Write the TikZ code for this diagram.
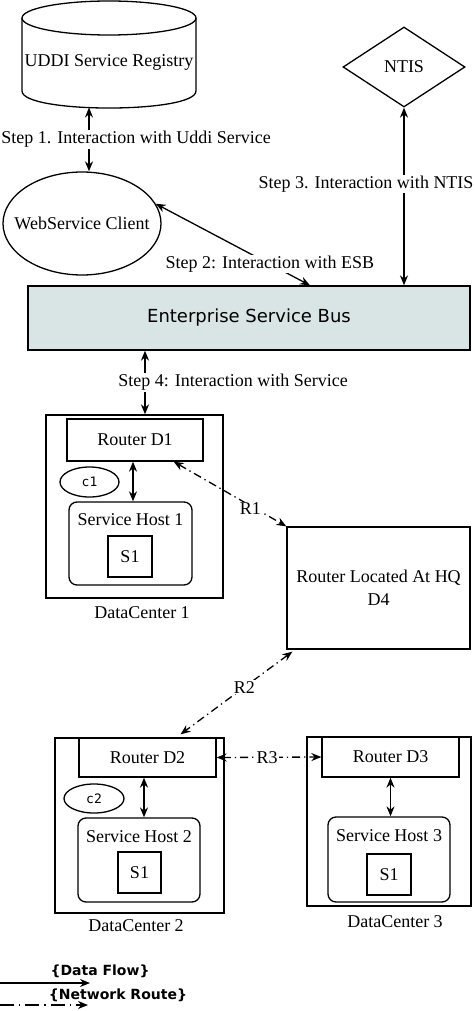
\documentclass[tikz,border=0pt]{standalone}
\usepackage{fontspec}
\setmainfont{Liberation Serif}
\setsansfont{DejaVu Sans}
\setmonofont{DejaVu Sans Mono}
\usepackage{tikz}
\usetikzlibrary{shapes.geometric, arrows, arrows.meta, positioning, calc}
\usepackage{xcolor}
\definecolor{busgray}{RGB}{217, 228, 228}
\tikzstyle{flow} = [line width=1.3pt,{Stealth[length=10pt,width=8pt]}-{Stealth[length=10pt,width=8pt]},black]
\tikzstyle{route} = [flow,dash pattern=on 8pt off 4pt on 1.3pt off 4pt]
\tikzstyle{steplabel} = [fill=white, inner sep=1pt, font=\fontsize{18}{20}\selectfont]
\tikzstyle{plainbox} = [draw, line width=1.3pt, inner sep=0pt, font=\fontsize{18}{20}\selectfont]
\tikzstyle{hostbox} = [plainbox, rounded corners=8pt]
\tikzstyle{cname} = [draw, ellipse, line width=1.3pt, inner sep=0pt, font=\ttfamily\fontsize{13}{13}\selectfont]

\begin{document}
\begin{tikzpicture}[x=1pt, y=-1pt]
\useasboundingbox (0,0) rectangle (474,1011);
% Top row: registry drum, client, NTIS
\draw[line width=1.3pt] (109,18) ellipse [x radius=87, y radius=17];
\draw[line width=1.3pt] (22,18) -- (22,91) .. controls (22,113.7) and (196,113.7) .. (196,91) -- (196,18);
\node[font=\fontsize{18}{20}\selectfont] (uddi) at (109,62) {UDDI Service Registry};
\coordinate (uddibot) at (89,107.5);
\node[plainbox, ellipse, minimum width=158pt, minimum height=103pt] (client) at (82,223.5) {\makebox[0pt]{WebService Client}};
\node[plainbox, diamond, aspect=1.5, minimum width=122pt, minimum height=80pt] (ntis) at (404,67) {NTIS};
% Bus
\node[plainbox, fill=busgray, minimum width=442pt, minimum height=64pt, font=\sffamily\fontsize{18}{20}\selectfont] (esb) at (249,318) {Enterprise Service Bus};

% DataCenter 1
\node[plainbox, minimum width=177pt, minimum height=183pt] (dc1) at (134.5,506.5) {};
\node[plainbox, minimum width=136pt, minimum height=42pt] (rd1) at (135,440) {Router D1};
\node[cname, minimum width=59pt, minimum height=30pt] (c1) at (89.5,482) {c1};
\node[hostbox, minimum width=123pt, minimum height=83pt] (host1) at (130.5,543.5) {};
\node[font=\fontsize{18}{20}\selectfont] (host1t) at (130.5,520) {Service Host 1};
\node[plainbox, minimum width=44pt, minimum height=41pt] (s1a) at (130,556.5) {S1};
\node[font=\fontsize{18}{20}\selectfont] (dc1t) at (142,613) {DataCenter 1};

% HQ router
\node[plainbox, minimum width=183pt, minimum height=122pt, align=center, font=\fontsize{18}{23}\selectfont] (hq) at (378.5,588) {Router Located At HQ\\D4};

% DataCenter 2
\node[plainbox, minimum width=169pt, minimum height=175pt] (dc2) at (139.5,825.5) {};
\node[plainbox, fill=white, minimum width=137pt, minimum height=39pt] (rd2) at (147.5,757.5) {Router D2};
\node[cname, minimum width=60pt, minimum height=29pt] (c2) at (94,798.5) {c2};
\node[hostbox, minimum width=122pt, minimum height=84pt] (host2) at (139,860) {};
\node[font=\fontsize{18}{20}\selectfont] (host2t) at (139,837) {Service Host 2};
\node[plainbox, minimum width=43pt, minimum height=41pt] (s1b) at (139.5,872.5) {S1};
\node[font=\fontsize{18}{20}\selectfont] (dc2t) at (136,926) {DataCenter 2};

% DataCenter 3
\node[plainbox, minimum width=164pt, minimum height=169pt] (dc3) at (389,821.5) {};
\node[plainbox, fill=white, minimum width=137pt, minimum height=40pt] (rd3) at (390.5,757) {Router D3};
\node[hostbox, minimum width=122pt, minimum height=85pt] (host3) at (389,859.5) {};
\node[font=\fontsize{18}{20}\selectfont] (host3t) at (389,836) {Service Host 3};
\node[plainbox, minimum width=44pt, minimum height=41pt] (s1c) at (389,874.5) {S1};
\node[font=\fontsize{18}{20}\selectfont] (dc3t) at (395,922) {DataCenter 3};

% Data flow arrows
\draw[flow] (uddibot) -- (uddibot |- client.north) node[steplabel, midway, xshift=47pt] {Step 1. Interaction with Uddi Service};
\draw[flow] (client.15) -- ($(esb.north)+(61,0)$) node[steplabel, pos=0.74] {Step 2: Interaction with ESB};
\draw[flow] (ntis.south) -- (ntis.south |- esb.north) node[steplabel, pos=0.43, xshift=-38pt] {Step 3. Interaction with NTIS};
\coordinate (st4) at ($(esb.south)+(-104,0)$);
\draw[flow] (st4) -- (st4 |- dc1.north) node[steplabel, midway, xshift=88pt] {Step 4: Interaction with Service};
\draw[flow] ($(rd1.south)+(-2,0)$) -- ($(rd1.south |- host1.north)+(-2,0)$);
\draw[flow] ($(rd2.south)+(-3.5,0)$) -- ($(rd2.south |- host2.north)+(-3.5,0)$);
\draw[flow] (rd3.south) -- (rd3.south |- host3.north);

% Network routes
\draw[route] ($(rd1.south east)+(-30,0)$) -- (hq.north west) node[steplabel, pos=0.68, yshift=-3pt] {R1};
\draw[route] ($(hq.south west)+(6,2)$) -- ($(rd2.north)+(33,-3)$) node[steplabel, pos=0.43] {R2};
\draw[route] (rd2.east) -- (rd3.west) node[steplabel, midway, xshift=-2pt] {R3};

% Legend
\coordinate (lgflow) at (0,983);
\coordinate (lgroute) at (0,1005);
\draw[line width=1.3pt,-{Stealth[length=10pt,width=8pt]}] (lgflow) -- ++(90,0);
\draw[line width=1.3pt,-{Stealth[length=10pt,width=8pt]},dash pattern=on 14pt off 5pt on 1.3pt off 5pt] (lgroute) -- ++(88,0);
\node[font=\sffamily\bfseries\fontsize{14}{16}\selectfont] (lgflowt) at (100,971) {\{Data Flow\}};
\node[font=\sffamily\bfseries\fontsize{14}{16}\selectfont] (lgroutet) at (118,995) {\{Network Route\}};
\end{tikzpicture}
\end{document}
